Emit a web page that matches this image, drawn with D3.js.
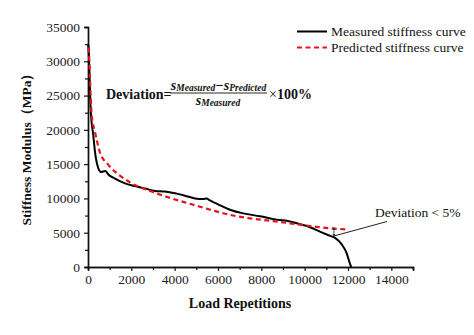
<!DOCTYPE html>
<html>
<head>
<meta charset="utf-8">
<script src="https://cdn.jsdelivr.net/npm/d3@7"></script>
<style>
  html, body { margin: 0; padding: 0; background: #fff; }
  svg text { font-family: "Liberation Serif", "Times New Roman", "DejaVu Serif", serif !important; }
  .tick text { fill: #222; }
</style>
</head>
<body>
<svg id="chart" width="474" height="335"></svg>
<script>
'use strict'

// measured stiffness curve (load repetitions, MPa)
const measuredReps = [15, 46, 92, 138, 245, 323, 477, 600, 800, 938, 1246, 1708, 2170, 2630, 3090, 3550,
  4015, 4475, 4940, 5320, 5477, 5630, 5860, 6090, 6550, 7170, 7940, 8710, 9320, 9780, 10245, 10710,
  11170, 11400, 11710, 11940, 12090, 12150]
const measuredVals = [32400, 30500, 25600, 22200, 19200, 16800, 14400, 13850, 14000, 13500, 12900, 12200,
  11800, 11450, 11100, 11000, 10750, 10400, 10000, 9900, 9980, 9700, 9350, 9000, 8350, 7820, 7400,
  6900, 6650, 6250, 5800, 5150, 4550, 4250, 3300, 2000, 500, 0]

// predicted stiffness curve
const predictedReps = [40, 92, 169, 323, 554, 938, 1246, 1400, 2015, 2940, 3860, 4785, 5710, 6550,
  7475, 8400, 9320, 10245, 11170, 11940]
const predictedVals = [32000, 27500, 22200, 19700, 16700, 14900, 13900, 13500, 12200, 11000, 10000,
  9150, 8300, 7600, 7100, 6750, 6370, 5980, 5640, 5490]

const xTicks = [0, 2000, 4000, 6000, 8000, 10000, 12000, 14000]
const yTicks = [0, 5000, 10000, 15000, 20000, 25000, 30000, 35000]
const legendLabels = ['Measured stiffness curve', 'Predicted stiffness curve']
const note = { reps: 11350, top: 5620, bottom: 4620, label: 'Deviation < 5%' }

const svg = d3.select('#chart')
const x = d3.scaleLinear().domain([0, 15000]).range([88, 413])
const y = d3.scaleLinear().domain([0, 35000]).range([267, 27])

// axes: major + minor ticks
const xMinor = d3.range(1000, 15001, 2000)
const yMinor = d3.range(2500, 35000, 5000)

svg.append('g').attr('transform', 'translate(0,267)')
  .call(d3.axisBottom(x).tickValues(xMinor).tickSize(3).tickFormat(''))
svg.append('g').attr('transform', 'translate(88,0)')
  .call(d3.axisLeft(y).tickValues(yMinor).tickSize(3).tickFormat(''))

const xAxis = svg.append('g').attr('transform', 'translate(0,267)')
  .call(d3.axisBottom(x).tickValues(xTicks.concat([15000])).tickSize(4).tickPadding(3)
    .tickFormat((d) => d === 15000 ? '' : d))
const yAxis = svg.append('g').attr('transform', 'translate(88,0)')
  .call(d3.axisLeft(y).tickValues(yTicks).tickSize(4).tickPadding(4).tickFormat((d) => d))

svg.selectAll('.domain').attr('stroke', '#111').attr('stroke-width', 1.4)
svg.selectAll('.tick line').attr('stroke', '#111').attr('stroke-width', 1.2)
xAxis.selectAll('.tick text').attr('font-size', 13.5)
yAxis.selectAll('.tick text').attr('font-size', 13.5)

// axis titles
svg.append('text').attr('x', 240).attr('y', 308).attr('text-anchor', 'middle')
  .attr('font-size', 14).attr('font-weight', 'bold').attr('fill', '#111').text('Load Repetitions')
svg.append('text').attr('transform', 'translate(31,146) rotate(-90)').attr('text-anchor', 'middle')
  .attr('font-size', 13.5).attr('font-weight', 'bold').attr('fill', '#111').text('Stiffness Modulus（MPa）')

// curves
const line = d3.line().x((d) => x(d[0])).y((d) => y(d[1])).curve(d3.curveMonotoneX)
const measured = d3.zip(measuredReps, measuredVals)
const predicted = d3.zip(predictedReps, predictedVals)

svg.append('path').datum(measured).attr('d', line)
  .attr('fill', 'none').attr('stroke', '#000').attr('stroke-width', 2)
svg.append('path').datum(predicted).attr('d', line)
  .attr('fill', 'none').attr('stroke', '#e3141c').attr('stroke-width', 2.2).attr('stroke-dasharray', '5,3.5')

// legend
const legend = svg.append('g').attr('font-size', 13.5).attr('fill', '#111')
legend.append('line').attr('x1', 297).attr('x2', 327).attr('y1', 31.5).attr('y2', 31.5)
  .attr('stroke', '#000').attr('stroke-width', 2)
legend.append('line').attr('x1', 297).attr('x2', 327).attr('y1', 47.5).attr('y2', 47.5)
  .attr('stroke', '#e3141c').attr('stroke-width', 2).attr('stroke-dasharray', '5,3.5')
legend.selectAll('text').data(legendLabels).enter().append('text')
  .attr('x', 331).attr('y', (d, i) => 36 + i * 16).text((d) => d)

// formula
const formula = svg.append('g').attr('fill', '#111').attr('font-weight', 'bold')
formula.append('text').attr('x', 106).attr('y', 98.5).attr('font-size', 14).text('Deviation=')
const num = formula.append('text').attr('x', 218.5).attr('y', 89.5).attr('text-anchor', 'middle')
  .attr('font-style', 'italic').attr('font-size', 14)
num.append('tspan').text('s')
num.append('tspan').attr('font-size', 9.5).attr('dy', 1.5).text('Measured')
num.append('tspan').attr('dy', -1.5).text('−s')
num.append('tspan').attr('font-size', 9.5).attr('dy', 1.5).text('Predicted')
formula.append('line').attr('x1', 170).attr('x2', 267).attr('y1', 93).attr('y2', 93)
  .attr('stroke', '#111').attr('stroke-width', 0.9)
const den = formula.append('text').attr('x', 218).attr('y', 104.5).attr('text-anchor', 'middle')
  .attr('font-style', 'italic').attr('font-size', 14)
den.append('tspan').text('s')
den.append('tspan').attr('font-size', 9.5).attr('dy', 1.5).text('Measured')
formula.append('text').attr('x', 269).attr('y', 98.5).attr('font-size', 14)
  .append('tspan').attr('font-weight', 'normal').text('×')
  .append('tspan').attr('font-weight', 'bold').text('100%')

// annotation
const nx = x(note.reps)
svg.append('defs').append('marker').attr('id', 'head').attr('viewBox', '0 0 6 6')
  .attr('refX', 3).attr('refY', 3).attr('markerWidth', 4).attr('markerHeight', 4).attr('orient', 'auto-start-reverse')
  .append('path').attr('d', 'M0,0L6,3L0,6Z').attr('fill', '#333')
svg.append('line').attr('x1', nx).attr('x2', nx).attr('y1', y(note.top)).attr('y2', y(note.bottom))
  .attr('stroke', '#333').attr('stroke-width', 0.8)
  .attr('marker-start', 'url(#head)').attr('marker-end', 'url(#head)')
svg.append('line').attr('x1', nx).attr('y1', y(note.bottom - 100)).attr('x2', 387).attr('y2', 221.5)
  .attr('stroke', '#222').attr('stroke-width', 1)
svg.append('text').attr('x', 375).attr('y', 217).attr('font-size', 13.5).attr('fill', '#111').text(note.label)
</script>
</body>
</html>
